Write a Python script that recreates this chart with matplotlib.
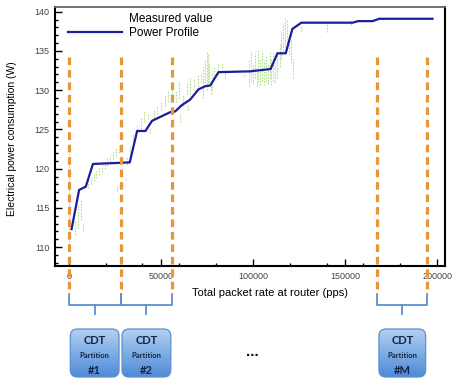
import numpy as np
import matplotlib
matplotlib.use('Agg')
import matplotlib.pyplot as plt
from matplotlib.lines import Line2D
from matplotlib.patches import FancyBboxPatch
from matplotlib.colors import LinearSegmentedColormap
from matplotlib.ticker import MultipleLocator

plt.rcParams['font.family'] = ['Liberation Sans', 'DejaVu Sans']

# power profile (pps, W)
profile_x = [1500, 5600, 9200, 13100, 33100, 37100, 41600, 45200, 49700, 55100,
             57800, 61400, 65900, 70400, 74000, 76800, 81300, 98400, 109600, 113300,
             117800, 121400, 126300, 154200, 157000, 165000, 168600, 197500]
profile_y = [112.3, 117.3, 117.7, 120.6, 120.8, 124.8, 124.8, 126.1, 126.6, 127.2,
             127.3, 128.1, 128.8, 130.1, 130.5, 130.6, 132.3, 132.4, 132.7, 134.7,
             134.7, 137.8, 138.6, 138.6, 138.8, 138.8, 139.1, 139.1]

# measured values, drawn as short vertical streaks (x, low, high)
meas_x = [200, 3500, 5000, 6500, 7500,
          10500, 12000, 13500, 15000, 16500, 18000, 19500, 21000, 22500, 24000, 25500, 27000,
          26000, 29000, 31000, 31500, 33000, 35000, 37000, 39000, 41000, 43000, 44000,
          46000, 48000, 50000, 52000, 54000, 56000, 58000, 60000, 60500, 62000, 64000, 64500,
          66000, 68000, 70000, 72000,
          73000, 74000, 74800, 75500, 76200, 77000, 77800, 79000, 81000, 83000, 85000,
          95000, 98000, 99000, 100000, 101000, 102000, 103000, 104000, 105000, 106000,
          107000, 108000, 109000, 110000, 111000, 112000, 113000,
          114500, 115500, 116500, 117500, 118500, 119500, 120500, 122000,
          126000, 140000, 153000]
meas_lo = [109.5, 111.5, 112.5, 113.5, 112.0,
           117.6, 118.0, 118.4, 118.8, 119.2, 119.6, 120.0, 120.4, 120.8, 121.2, 121.6, 122.0,
           117.2, 117.5, 118.5, 120.5, 121.5, 123.0, 124.5, 125.0, 126.0, 126.3, 124.5,
           126.5, 127.0, 127.5, 128.0, 128.5, 129.0, 128.5, 129.0, 126.0, 128.0, 129.5, 127.5,
           129.5, 130.0, 130.5, 131.0,
           129.0, 130.5, 130.0, 130.5, 131.0, 129.5, 130.0, 131.5, 132.0, 132.8, 131.5,
           131.8, 130.5, 131.0, 130.8, 131.5, 130.5, 131.0, 130.7, 131.2, 130.6, 131.0,
           130.8, 131.5, 130.6, 131.2, 131.0, 131.5,
           133.0, 134.0, 135.0, 135.5, 136.0, 134.5, 133.5, 131.5,
           137.5, 137.4, 138.3]
meas_hi = [122.0, 113.5, 115.5, 116.0, 113.0,
           118.6, 119.0, 119.4, 119.8, 120.2, 120.6, 121.0, 121.4, 121.8, 122.2, 122.6, 123.0,
           117.8, 118.2, 119.0, 121.5, 123.0, 124.5, 125.5, 126.5, 127.3, 127.0, 125.3,
           127.5, 128.0, 128.5, 129.5, 130.0, 130.5, 130.0, 131.0, 127.0, 129.5, 131.0, 128.3,
           131.5, 131.5, 132.0, 132.0,
           133.0, 134.0, 135.0, 134.8, 133.5, 131.0, 132.5, 133.0, 133.5, 133.5, 132.3,
           132.2, 134.0, 135.0, 133.5, 134.8, 133.0, 135.3, 134.0, 135.0, 133.8, 134.5,
           133.5, 135.0, 134.0, 134.8, 133.5, 134.5,
           136.0, 137.5, 138.5, 139.2, 139.0, 137.0, 136.5, 134.0,
           138.3, 138.5, 139.0]

# CDT partition boundaries (pps)
bounds = [0, 28100, 56200, 167600, 194600]
partitions = [(0, '#1'), (1, '#2'), (3, '#M')]

W, H = 474, 383
fig = plt.figure(figsize=(W / 100, H / 100), dpi=100)
ax = fig.add_axes([55 / W, 1 - 266 / H, 390 / W, 259 / H])

ax.vlines(meas_x, meas_lo, meas_hi, color='#8fd05a', lw=0.8, alpha=0.7,
          linestyles=[(0, (1.5, 1.2))], zorder=2)
ax.plot(profile_x, profile_y, color='#1c1c9e', lw=1.6, zorder=3)

ax.set_xlim(-7500, 204300)
ax.set_ylim(107.6, 140.6)
ax.xaxis.set_major_locator(MultipleLocator(50000))
ax.xaxis.set_minor_locator(MultipleLocator(20000))
ax.yaxis.set_major_locator(MultipleLocator(5))
ax.yaxis.set_minor_locator(MultipleLocator(1))
ax.tick_params(which='both', direction='in', top=False, right=False,
               labelsize=6.5, labelcolor='#444444', width=1)
ax.tick_params(which='major', length=5, pad=4)
ax.tick_params(which='minor', length=2.5)
for s in ['left', 'bottom', 'right']:
    ax.spines[s].set_linewidth(1.5)
ax.spines['top'].set_linewidth(1.3)
ax.spines['top'].set_color('#666666')

ax.set_xlabel('Total packet rate at router (pps)', fontsize=8)
ax.set_ylabel('Electrical power consumption (W)', fontsize=7.5)
ax.xaxis.set_label_coords(0.551, -0.085)
ax.yaxis.set_label_coords(-0.097, 0.49)

handles = [Line2D([], [], ls='none', color='#8fd05a'),
           Line2D([], [], color='#1c1c9e', lw=1.6)]
ax.legend(handles, ['Measured value', 'Power Profile'], loc='upper left',
          bbox_to_anchor=(0.033, 0.975), frameon=False, fontsize=8.5,
          handlelength=4.6, handletextpad=0.6, labelspacing=0.1,
          borderpad=0, borderaxespad=0)

# overlay in pixel units for the partition marks below the axis
ov = fig.add_axes([0, 0, 1, 1])
ov.axis('off')
px = [ax.transData.transform((b, 0))[0] for b in bounds]

for x in px:
    ov.plot([x, x], [57, 294], color='#e8963a', lw=2.3,
            ls=(0, (2.4, 1.5)), solid_capstyle='butt', zorder=4)

grad_cmap = LinearSegmentedColormap.from_list('g', ['#b3d0f2', '#7eaee6', '#4f8ad6'])
grad = np.linspace(0, 1, 64).reshape(-1, 1)
brace_c = '#5b8fd0'
for i, lab in partitions:
    x0, x1 = px[i], px[i + 1]
    xm = (x0 + x1) / 2
    ov.plot([x0, x0, x1, x1], [294, 305, 305, 294], color=brace_c, lw=1.3,
            solid_joinstyle='round')
    ov.plot([xm, xm], [305, 314], color=brace_c, lw=1.3)
    bx0, bx1 = x0 + 1.5, x1 - 1.5
    box = FancyBboxPatch((bx0, 329), bx1 - bx0, 48,
                         boxstyle='round,pad=0,rounding_size=7',
                         fc='none', ec='#5d8fcc', lw=0.9, zorder=3)
    ov.add_patch(box)
    im = ov.imshow(grad, extent=[bx0, bx1, 377, 329], aspect='auto',
                   cmap=grad_cmap, zorder=2, interpolation='bilinear')
    im.set_clip_path(box)
    ov.text(xm, 341, 'CDT', ha='center', va='center', fontsize=8,
            fontweight='bold', color='#15233f', family='Lato')
    ov.text(xm, 355, 'Partition', ha='center', va='center', fontsize=5.5,
            fontweight='bold', color='#15233f', family='Lato')
    ov.text(xm, 370, lab, ha='center', va='center', fontsize=8,
            fontweight='bold', color='#15233f', family='Lato')

ov.text(252, 352, '...', ha='center', va='center', fontsize=11,
        fontweight='bold', color='#111111')

ov.set_xlim(0, W)
ov.set_ylim(H, 0)

fig.savefig('out.png', dpi=100)
